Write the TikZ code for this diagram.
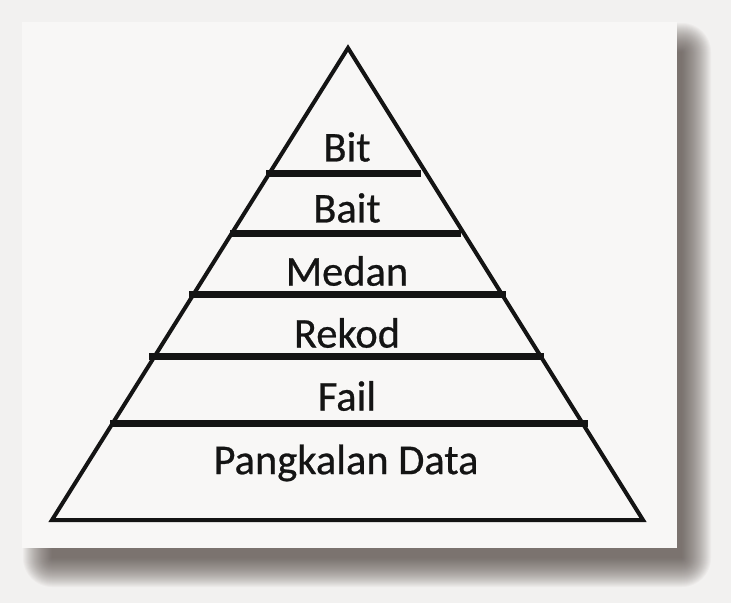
\documentclass[tikz,border=0pt]{standalone}
\usepackage{fontspec}
\setmainfont{Carlito}
\definecolor{bgc}{HTML}{F2F1F0}
\definecolor{cardc}{HTML}{F8F7F6}
\definecolor{shadowc}{HTML}{4A403B}
\definecolor{inkc}{HTML}{141414}
\newfontfamily\tierfont[FakeBold=0.6]{Carlito}
\tikzset{
  tier/.style={font=\tierfont\fontsize{42.5}{46}\selectfont, text=inkc, inner sep=0pt, anchor=center},
  edge/.style={draw=inkc, line width=4pt, line join=miter},
  divider/.style={draw=inkc, line width=7pt}
}
\begin{document}
\begin{tikzpicture}[x=1pt,y=-1pt]
\useasboundingbox (0,0) rectangle (731,603);
\fill[bgc] (0,0) rectangle (731,603);
% shadow
\foreach \i in {0,...,29}{
  \fill[shadowc, opacity=0.035, rounded corners=\i pt] ({52-\i},{52-\i}) rectangle ({682+\i},{558+\i});
}
% card
\fill[cardc] (22,22) rectangle (677,548);
% triangle
\coordinate (apex) at (348,48);
\coordinate (bl) at (52,520);
\coordinate (br) at (643,520);
\draw[edge] (apex) -- (br) -- (bl) -- cycle;
% dividers
\coordinate (d1l) at (266,173); \coordinate (d1r) at (421,173);
\coordinate (d2l) at (230,233); \coordinate (d2r) at (461,233);
\coordinate (d3l) at (189,294); \coordinate (d3r) at (506,294);
\coordinate (d4l) at (149,356); \coordinate (d4r) at (544,356);
\coordinate (d5l) at (110,423); \coordinate (d5r) at (588,423);
\draw[divider] (d1l) -- (d1r);
\draw[divider] (d2l) -- (d2r);
\draw[divider] (d3l) -- (d3r);
\draw[divider] (d4l) -- (d4r);
\draw[divider] (d5l) -- (d5r);
% labels
\node[tier] (bit) at (347,147) {Bit};
\node[tier] (bait) at (347,208) {Bait};
\node[tier] (medan) at (347,271) {Medan};
\node[tier] (rekod) at (347,333) {Rekod};
\node[tier] (fail) at (347,396) {Fail};
\node[tier] (pd) at (346,463) {Pangkalan Data};
\end{tikzpicture}
\end{document}
